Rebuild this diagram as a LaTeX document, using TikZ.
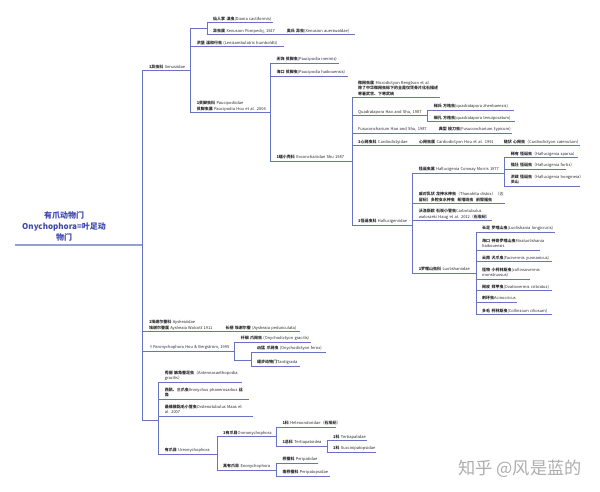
\documentclass[tikz,border=0pt]{standalone}
\usepackage{fontspec}
\setmainfont{Noto Sans CJK SC}
\definecolor{linkblue}{RGB}{105,115,195}
\definecolor{rootblue}{RGB}{150,158,215}
\definecolor{titleblue}{RGB}{62,72,175}
\tikzset{
  topicline/.style={draw=linkblue,line width=0.75pt},
  topic/.style={anchor=south west,inner xsep=6.3pt,inner ysep=0.8pt,text=black!85,
    font=\fontsize{4}{5.3}\selectfont,align=left},
  rootnode/.style={anchor=south west,inner sep=0pt,text=titleblue,
    font=\fontsize{8}{10.6}\selectfont\bfseries,align=left},
  mark text/.style={text=black!32,font=\fontsize{17.2}{18}\selectfont}
}
\newcommand{\tn}[5]{%
  \pgfmathsetmacro{\tnw}{max(#3-#2-12.6,0.1)}%
  \node[topic,text width=\tnw pt] (#1) at (#2,#4) {\begin{tabular}{@{}l@{}}#5\end{tabular}};%
  \draw[topicline] (#1.south west) -- (#1.south east);}
\newcommand{\lnk}[2]{\foreach \kid in {#2} {\draw[topicline] (#1.south east) |- (\kid.south west);}}
\begin{document}
\begin{tikzpicture}[x=1pt,y=-1pt]
\useasboundingbox (0,0) rectangle (600,491);
% root
\node[rootnode,minimum width=127pt,text width=127pt] (root) at (15,245)
  {\hspace*{7pt}\begin{tabular}{@{}c@{}}有爪动物门\\Onychophora=叶足动\\物门\end{tabular}\par\vspace{1.5pt}};
\draw[draw=rootblue,line width=1.5pt] (root.south west) -- (root.south east);
% level 1
\tn{xen}{142.5}{190.3}{70.7}{\textbf{1异虫科} Xenusiidae}
\tn{ays}{142.5}{219}{331.7}{\textbf{1埃谢尔蚕科} Aysheaiidae\\\textbf{埃谢尔蚕属} Aysheaia Walcott 1911}
\tn{par}{142.5}{234.3}{351}{†Paronychophora Hou \& Bergström, 1995}
\tn{ure}{142.5}{158.3}{420.7}{}
\lnk{root}{xen,ays,par,ure}
% Xenusiidae
\tn{xs}{190.3}{206.7}{28.3}{}
\tn{len}{190.3}{284}{46.7}{\textbf{洪堡 温和行虫} (Lenisambulatrix humboldti)}
\tn{pau}{190.3}{270}{112.7}{\textbf{1贫脚虫科} Paucipodiidae\\\textbf{贫脚虫属} Paucipodia Hou et al. 2004}
\lnk{xen}{xs,len,pau}
\tn{dia}{206.7}{272.7}{22.7}{\textbf{仙人掌 滇虫}(Diania cactiformis)}
\tn{xg}{206.7}{280.4}{34.7}{\textbf{异虫属} Xenusion Pompeckj, 1927}
\lnk{xs}{dia,xg}
\tn{xa}{280.4}{355}{34.7}{\textbf{奥氏 异虫}(Xenusion auerswaldae)}
\lnk{xg}{xa}
% Paucipodiidae
\tn{pi}{270}{339}{63.3}{\textbf{无饰 贫脚虫}(Paucipodia inermis)}
\tn{ph}{270}{347.3}{76}{\textbf{海口 贫脚虫}(Paucipodia haikouensis)}
\tn{eo}{270}{351.7}{161.3}{\textbf{1蠕小壳科} Eoconchariidae Shu 1987}
\lnk{pau}{pi,ph,eo}
% Eoconchariidae
\tn{mic}{351.7}{439.3}{97.7}{\textbf{微网虫属} Microdictyon Bengtson et al.\\\textbf{除了中华微网虫标下的全是仅凭骨片化石描述}\\\textbf{寒暑武世、下寒武统}}
\tn{qua}{351.7}{427.3}{115.7}{Quadratapora Hao and Shu, 1987}
\tn{fus}{351.7}{432.3}{133.3}{Fusuconcharium Hao and Shu, 1987}
\tn{car}{351.7}{412.7}{145.7}{\textbf{1心网虫科} Cardiodictyidae}
\tn{hal}{351.7}{412.3}{225}{\textbf{1怪诞虫科} Hallucigeniidae}
\lnk{eo}{mic,qua,fus,car,hal}
\tn{qz}{427.3}{513.3}{110.3}{\textbf{梯氏 方格虫}(quadratapora zhenbaensis)}
\tn{qt}{427.3}{515}{121.7}{\textbf{细孔 方格虫}(quadratapora tenuiporatum)}
\lnk{qua}{qz,qt}
\tn{ft}{432.3}{511.7}{133.3}{\textbf{典型 梭刀虫}(Fusuconcharium typicum)}
\lnk{fus}{ft}
\tn{cg}{412.7}{497.3}{145.7}{\textbf{心网虫属} Cardiodictyon Hou et al. 1991}
\lnk{car}{cg}
\tn{cc}{497.3}{580}{145.7}{\textbf{链状 心网虫}（Cardiodictyon catenulum）}
\lnk{cg}{cc}
% Hallucigeniidae
\tn{hg}{412.3}{504.3}{173.3}{\textbf{怪诞虫属} Hallucigenia Conway Morris 1977}
\tn{tha}{412.3}{505}{203.7}{\textbf{戚对乳状 龙神水神虫}（Thanahita distos）（志\\\textbf{留纪）多腔支水神虫\ \ 希措斑虫\ \ 前臂福虫}}
\tn{cbt}{412.3}{491.7}{220.7}{\textbf{沃洛斯欧 石炭小管虫}Carbotubulus\\ waloszeki Haug et al. 2012（\textbf{石炭纪}）}
\tn{luo}{412.3}{475.7}{273.3}{\textbf{1罗哩山虫科} Luolishaniidae}
\lnk{hal}{hg,tha,cbt,luo}
\tn{hs}{504.3}{578}{157.7}{\textbf{稀有 怪诞虫}（Hallucigenia sparsa）}
\tn{hf}{504.3}{566}{169.3}{\textbf{强壮 怪诞虫}（Hallucigenia fortis）}
\tn{hh}{504.3}{580}{186}{\textbf{洪政 怪诞虫}（Hallucigenia hongmeia）\\\textbf{关山}}
\lnk{hg}{hs,hf,hh}
% Luolishaniidae
\tn{l1}{475.7}{555}{232.3}{\textbf{长足 罗哩山虫}(Luolishania longicruris)}
\tn{l2}{475.7}{540}{250}{\textbf{海口 神奇罗哩山虫}Miraluolishania\\haikouensis}
\tn{l3}{475.7}{551.7}{261.7}{\textbf{云南 犬爪虫}(Facivermis yunnanicus)}
\tn{l4}{475.7}{530}{279.3}{\textbf{怪物 小柯林斯虫}(collinsovermis\\monstruosus)}
\tn{l5}{475.7}{551.7}{290.7}{\textbf{网皮 郑甲虫}(Ovatiovermis cribratus)}
\tn{l6}{475.7}{516.7}{302}{\textbf{刺环虫}Acinocricus}
\tn{l7}{475.7}{551.7}{314.7}{\textbf{多毛 柯林斯虫}(Collinsium ciliosum)}
\lnk{luo}{l1,l2,l3,l4,l5,l6,l7}
% Aysheaiidae
\tn{ayp}{219}{300}{331.7}{\textbf{长柄 埃谢尔蚕} (Aysheaia pedunculata)}
\lnk{ays}{ayp}
% Paronychophora
\tn{ong}{234.3}{311}{342}{\textbf{纤细 爪网虫} (Onychodictyon gracilis)}
\tn{ps}{234.3}{250.7}{360}{}
\lnk{par}{ong,ps}
\tn{onf}{250.7}{326}{352.3}{\textbf{凶猛 爪网虫} (Onychodictyon ferox)}
\tn{tar}{250.7}{300}{366}{\textbf{缓步动物门}Tardigrada}
\lnk{ps}{onf,tar}
% Ureonychophora group
\tn{ant}{158.3}{241.7}{382.3}{\textbf{秀丽 触角蚕足虫}（Antennacanthopodia\\gracilis）}
\tn{ily}{158.3}{249}{399.3}{\textbf{西凯、三爪虫}Ilronychus phanerosarkus \textbf{丝}\\\textbf{角}}
\tn{ors}{158.3}{253}{416.3}{\textbf{最维骸黏毛小管虫}Orstenotubulus Maas et\\al. 2007}
\tn{urg}{158.3}{216.7}{454.3}{\textbf{有爪目} Ureonychophora}
\lnk{ure}{ant,ily,ors,urg}
\tn{onm}{216.7}{276}{436.7}{\textbf{1有爪目}Onmonychophora}
\tn{eon}{216.7}{276}{470.3}{\textbf{真有爪目} Eoonychophora}
\lnk{urg}{onm,eon}
\tn{hel}{276}{336}{427.3}{\textbf{1科} Heleoondoridae（\textbf{石炭纪}）}
\tn{tea}{276}{326.7}{446}{\textbf{1总科} Tertiapatoidea}
\lnk{onm}{hel,tea}
\tn{tep}{326.7}{367}{440.7}{\textbf{1科} Tertiapatidae}
\tn{suc}{326.7}{376}{452.3}{\textbf{1科} Succinipatopsidae}
\lnk{tea}{tep,suc}
\tn{per}{276}{317.7}{463.3}{\textbf{栉蚕科} Peripatidae}
\tn{pes}{276}{330}{476}{\textbf{南栉蚕科} Peripatopsidae}
\lnk{eon}{per,pes}
% watermark
\node[mark text,anchor=center] (wm) at (520,468.5) {知乎 @风是蓝的};
\end{tikzpicture}
\end{document}
